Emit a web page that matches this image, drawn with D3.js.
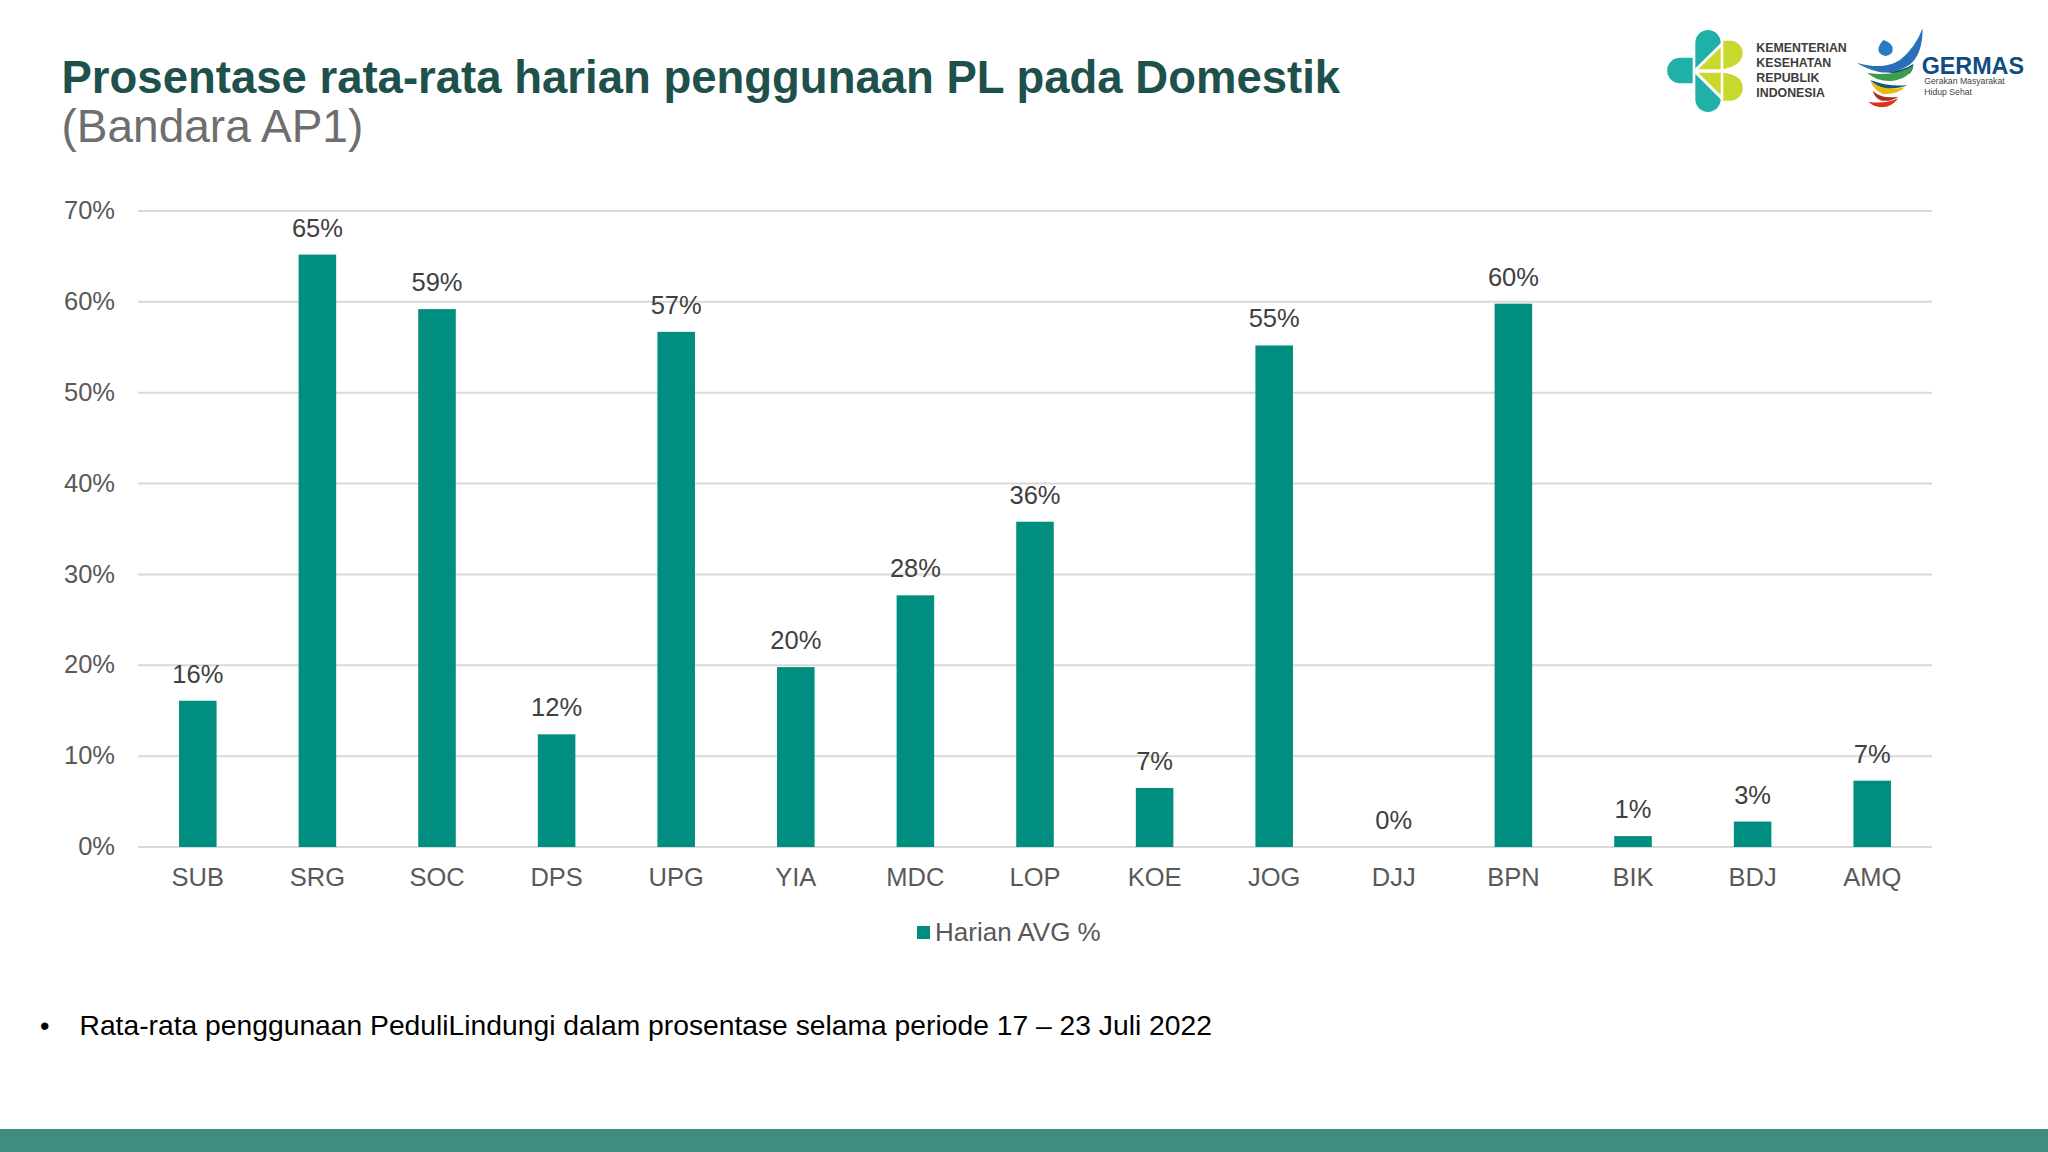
<!DOCTYPE html>
<html>
<head>
<meta charset="utf-8">
<script src="https://cdn.jsdelivr.net/npm/d3@7"></script>
<style>
  html, body { margin: 0; padding: 0; background: #fff; }
  svg { display: block; }
  text { font-family: "Liberation Sans", Arial, sans-serif; }
</style>
</head>
<body>
<svg id="chart" width="2048" height="1152"></svg>
<script>
const categories = ["SUB", "SRG", "SOC", "DPS", "UPG", "YIA", "MDC", "LOP", "KOE", "JOG", "DJJ", "BPN", "BIK", "BDJ", "AMQ"];
const hariansAvg = [16.1, 65.2, 59.2, 12.4, 56.7, 19.8, 27.7, 35.8, 6.5, 55.2, 0, 59.8, 1.2, 2.8, 7.3];
const yTicks = [0, 10, 20, 30, 40, 50, 60, 70];
const seriesName = "Harian AVG %";
const titleText = "Prosentase rata-rata harian penggunaan PL pada Domestik";
const subtitleText = "(Bandara AP1)";
const noteText = "Rata-rata penggunaan PeduliLindungi dalam prosentase selama periode 17 – 23 Juli 2022";
const logoLines = ["KEMENTERIAN", "KESEHATAN", "REPUBLIK", "INDONESIA"];

const svg = d3.select("#chart");
const plot = { left: 138, right: 1932, top: 211, bottom: 847 };
const fmt = d => d3.format(".0f")(d) + "%";

const x = d3.scaleBand().domain(categories).range([plot.left, plot.right]).paddingInner(0.686).paddingOuter(0.343);
const y = d3.scaleLinear().domain([0, 70]).range([plot.bottom, plot.top]);

// title
svg.append("text").attr("x", 61.5).attr("y", 93).attr("font-size", 45.5).attr("font-weight", "bold").attr("fill", "#1e514b").text(titleText);
svg.append("text").attr("x", 61.5).attr("y", 142).attr("font-size", 46).attr("fill", "#6e6e6e").text(subtitleText);

// y axis + grid
const yAxis = svg.append("g")
  .attr("transform", `translate(${plot.left},0)`)
  .call(d3.axisLeft(y).tickValues(yTicks).tickFormat(fmt).tickSize(-(plot.right - plot.left)).tickPadding(23).offset(0));
yAxis.select(".domain").remove();
yAxis.selectAll(".tick line").attr("stroke", "#d9d9d9").attr("stroke-width", 2);
yAxis.selectAll(".tick text").attr("font-size", 25.5).attr("font-family", "Liberation Sans").attr("fill", "#595959");

// x axis
const xAxis = svg.append("g")
  .attr("transform", `translate(0,${plot.bottom})`)
  .call(d3.axisBottom(x).tickSize(0).tickPadding(21).offset(0));
xAxis.select(".domain").remove();
xAxis.selectAll(".tick text").attr("font-size", 25.5).attr("font-family", "Liberation Sans").attr("fill", "#595959");

// bars
svg.selectAll(".bar").data(categories).join("rect")
  .attr("class", "bar")
  .attr("x", d => x(d))
  .attr("y", (d, i) => y(hariansAvg[i]))
  .attr("width", x.bandwidth())
  .attr("height", (d, i) => y(0) - y(hariansAvg[i]))
  .attr("fill", "#008e80");

// labels
svg.selectAll(".val").data(categories).join("text")
  .attr("class", "val")
  .attr("x", d => x(d) + x.bandwidth() / 2)
  .attr("y", (d, i) => y(hariansAvg[i]) - 18)
  .attr("text-anchor", "middle")
  .attr("font-size", 25.5)
  .attr("fill", "#404040")
  .text((d, i) => fmt(hariansAvg[i]));

// legend
svg.append("rect").attr("x", 917).attr("y", 926).attr("width", 13).attr("height", 13).attr("fill", "#008e80");
svg.append("text").attr("x", 935).attr("y", 941).attr("font-size", 26).attr("fill", "#595959").text(seriesName);

// note
svg.append("text").attr("x", 40).attr("y", 1035).attr("font-size", 27).attr("fill", "#000").text("•");
svg.append("text").attr("x", 79.5).attr("y", 1035).attr("font-size", 28.25).attr("fill", "#000").text(noteText);

// footer
svg.append("rect").attr("x", 0).attr("y", 1129).attr("width", 2048).attr("height", 23).attr("fill", "#408d80");

// logos, drawn in the coordinates of a 3x crop
const logo = svg.append("g").attr("transform", "translate(1620,0) scale(0.3333)");
const teal = "#1fb1a8", lime = "#c9d82d";
[
  ["M218,173 L180,173 A38,38 0 0 0 180,250 L218,250 Z", teal],
  ["M226,205 L226,128 A38,38 0 0 1 302,128 L302,130 Z", teal],
  ["M226,222 L302,298 A38,38 0 0 1 226,298 Z", teal],
  ["M235,208 L302,142 L302,208 Z", lime],
  ["M310,122 L332,122 A37,37 0 0 1 368,160 Q368,195 310,208 Z", lime],
  ["M235,218 L302,218 L302,285 Z", lime],
  ["M310,218 Q368,225 368,262 A37,37 0 0 1 332,302 L310,302 Z", lime],
  ["M790,120 Q768,145 778,158 Q797,178 816,158 Q826,132 790,120 Z", "#2a7bc4"],
  ["M710,188 Q790,212 840,180 Q885,145 908,85 Q908,165 868,195 Q820,225 775,215 Q735,205 710,188 Z", "#2a6fb8"],
  ["M800,217 Q850,212 880,192 Q880,210 868,222 Q830,222 800,217 Z", "#0f4c81"],
  ["M742,218 Q820,232 880,197 Q870,235 815,243 Q770,245 742,218 Z", "#3c9e4a"],
  ["M750,240 Q810,262 862,255 Q845,265 805,266 Q770,262 750,240 Z", "#0f5c70"],
  ["M752,245 Q790,275 855,262 Q830,285 790,282 Q762,270 752,245 Z", "#f2b705"],
  ["M758,272 Q785,298 835,290 Q815,305 785,302 Q765,295 758,272 Z", "#a3301f"],
  ["M745,305 Q790,314 835,295 Q815,322 785,322 Q760,320 745,305 Z", "#e0301f"]
].forEach(([d, c]) => logo.append("path").attr("d", d).attr("fill", c));

logo.selectAll(".ll").data(logoLines).join("text")
  .attr("class", "ll")
  .attr("x", 409)
  .attr("y", (d, i) => 157 + i * 45)
  .attr("font-size", 37)
  .attr("font-weight", "bold")
  .attr("fill", "#3d3d3d")
  .text(d => d);
logo.append("text").attr("x", 905).attr("y", 221).attr("font-size", 70).attr("font-weight", "bold").attr("fill", "#0f4c81").text("GERMAS");
logo.append("text").attr("x", 913).attr("y", 252).attr("font-size", 26).attr("fill", "#444").text("Gerakan Masyarakat");
logo.append("text").attr("x", 913).attr("y", 285).attr("font-size", 26).attr("fill", "#444").text("Hidup Sehat");
</script>
</body>
</html>
